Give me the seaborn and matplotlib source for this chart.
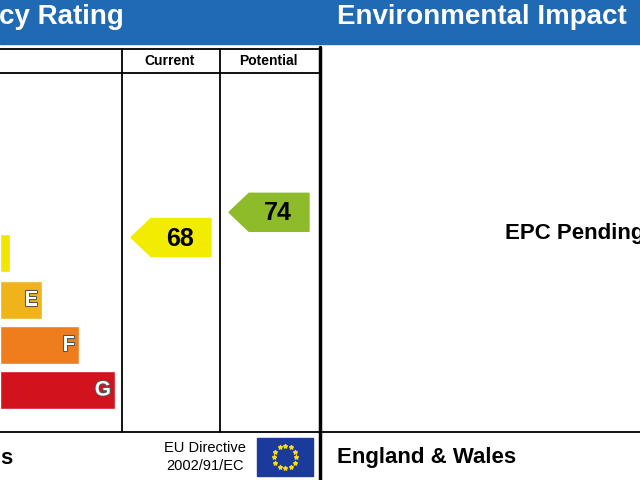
import matplotlib
matplotlib.use("Agg")
import matplotlib.pyplot as plt
import seaborn as sns
import numpy as np
from matplotlib.patches import Polygon, Rectangle
import matplotlib.patheffects as pe

sns.set_style("white")
plt.rcParams['font.family'] = ['Liberation Sans', 'DejaVu Sans']
plt.rcParams['text.color'] = 'black'

bands = ["D", "E", "F", "G"]
band_right = [10, 42, 79, 115]
band_colors = ["#f2e600", "#f1b31a", "#ef7d1b", "#d2121c"]
band_top = [234, 281, 326, 371]
band_h = 38

current = 68
potential = 74
current_color = "#f2ec00"
potential_color = "#8dbb2a"

fig = plt.figure(figsize=(6.4, 4.8), dpi=100)
ax = fig.add_axes([0, 0, 1, 1])
ax.set_xlim(0, 640); ax.set_ylim(480, 0); ax.axis("off")

# header
ax.add_patch(Rectangle((0, 0), 640, 44, color="#2069b3"))
ax.text(-1, 17, "cy Rating", color="white", fontsize=20, fontweight="bold", va="center")
ax.text(337, 17, "Environmental Impact", color="white", fontsize=20, fontweight="bold", va="center")

# frame
lw = 1.3
ax.plot([0, 320], [49, 49], color="k", lw=lw)
ax.plot([0, 320], [73, 73], color="k", lw=lw)
ax.plot([0, 640], [432, 432], color="k", lw=lw)
ax.plot([122, 122], [49, 432], color="k", lw=lw)
ax.plot([220, 220], [49, 432], color="k", lw=lw)
ax.plot([320, 320], [47, 480], color="k", lw=2.5)
ax.text(170, 61, "Current", fontsize=10, fontweight="bold", ha="center", va="center")
ax.text(268, 61, "Potential", fontsize=10, fontweight="bold", ha="center", va="center")

# bands
ax.barh([t + band_h / 2 for t in band_top], band_right, height=band_h, left=0, color=band_colors)
for b, r, t in zip(bands, band_right, band_top):
    if r > 20:
        ax.text(r - 4, t + band_h / 2, b, color="white", fontsize=15, fontweight="bold",
                ha="right", va="center",
                path_effects=[pe.withStroke(linewidth=1.5, foreground="#555555")])

def rating_y(v):
    return 237.5 - (v - 68) * 4.2

def arrow(x0, x1, v, color):
    yc = rating_y(v); h = 19
    pts = [(x0, yc), (x0 + 20, yc - h), (x1, yc - h), (x1, yc + h), (x0 + 20, yc + h)]
    ax.add_patch(Polygon(pts, closed=True, color=color))
    ax.text((x0 + x1) / 2 + 9, yc + 1, str(v), fontsize=18, fontweight="bold", ha="center", va="center")

arrow(131, 211, current, current_color)
arrow(229, 309, potential, potential_color)

ax.text(505, 233, "EPC Pending", fontsize=16, fontweight="bold", va="center")

# footer
ax.text(0, 458, "s", fontsize=16, fontweight="bold", va="center")
ax.text(205, 448, "EU Directive", fontsize=10.5, ha="center", va="center")
ax.text(205, 466, "2002/91/EC", fontsize=10.5, ha="center", va="center")
ax.add_patch(Rectangle((257, 438), 56, 38, color="#1a3a9c"))
ang = np.linspace(0, 2 * np.pi, 13)[:-1]
ax.scatter(285 + 11 * np.cos(ang), 457 + 11 * np.sin(ang), marker="*", s=8, color="#ffdd00", zorder=5)
ax.text(337, 457, "England & Wales", fontsize=16, fontweight="bold", va="center")

fig.savefig("out.png", dpi=100)
